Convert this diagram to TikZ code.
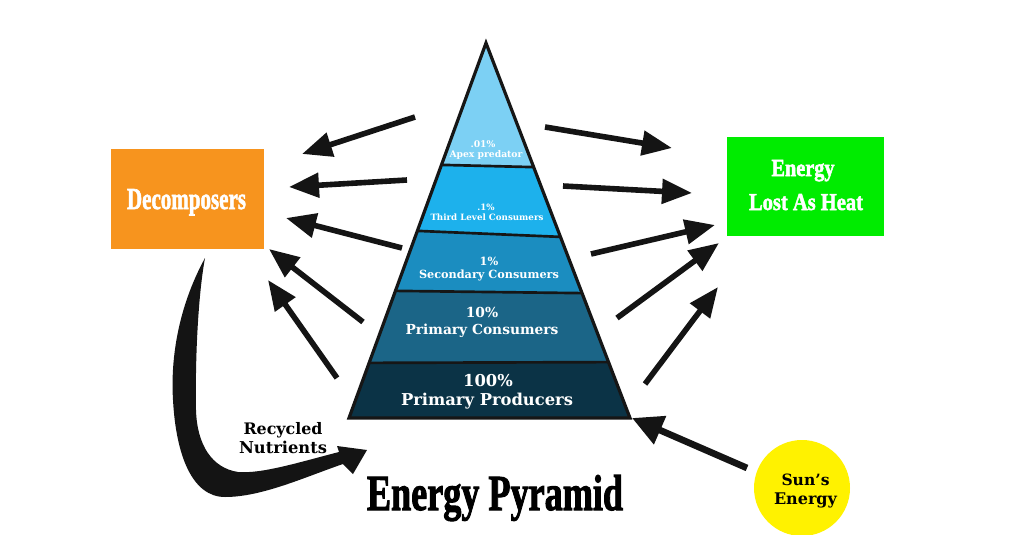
\documentclass[tikz,border=0pt]{standalone}
\usepackage{fontspec}
\usepackage{graphicx}
\usetikzlibrary{arrows.meta,calc}
\newfontfamily\slabfont{DejaVu Serif}
\newfontfamily\condfont[BoldFeatures={FakeBold=2.2}]{Liberation Serif}
\newcommand\fitw[2]{\resizebox{#1}{!}{#2}}
\newcommand\fitwh[3]{\resizebox{#1}{#2}{#3}}
\newlength\natw
% scale #3 by the factor that brings #2 to width #1 (pt)
\newcommand\scaledlike[3]{%
  \settowidth\natw{\slabfont\bfseries #2}%
  \pgfmathsetmacro\bsf{#1/\natw}%
  \scalebox{\bsf}{\slabfont\bfseries #3}}
% #1 name, #2 num x, #3 num y, #4 name x, #5 name y, #6 width (pt), #7 number, #8 label
\newcommand\bandpair[8]{%
  \node[ptext] (#1num) at (#2,#3) {\scaledlike{#6}{#8}{#7}};
  \node[ptext] (#1lab) at (#4,#5) {\scaledlike{#6}{#8}{#8}};
}
\definecolor{apexc}{RGB}{124,208,244}
\definecolor{thirdc}{RGB}{29,177,236}
\definecolor{secc}{RGB}{27,141,192}
\definecolor{primc}{RGB}{27,101,135}
\definecolor{prodc}{RGB}{11,51,70}
\definecolor{outl}{RGB}{22,22,22}
\definecolor{decoc}{RGB}{247,148,30}
\definecolor{heatc}{RGB}{0,236,0}
\definecolor{sunc}{RGB}{255,242,0}
\definecolor{ink}{RGB}{20,20,20}
\tikzset{
  flow/.style={draw=ink, line width=4.2pt, -{Triangle[length=22.5pt,width=18pt]}},
  flowthick/.style={draw=ink, line width=5pt, -{Triangle[length=23pt,width=22pt]}},
  divider/.style={draw=outl, line width=2pt},
  ptext/.style={text=white, inner sep=0pt, anchor=base},
  btext/.style={text=black, inner sep=0pt, anchor=base},
}
\begin{document}
\begin{tikzpicture}[x=0.75pt,y=-0.75pt]
\useasboundingbox (0,0) rectangle (1024,535);
\fill[white] (0,0) rectangle (1024,535);

% pyramid geometry
\coordinate (A) at (486,43);
\coordinate (BL) at (349,418);
\coordinate (BR) at (630,418);
\coordinate (L1) at ($(A)!0.325!(BL)$);
\coordinate (R1) at ($(A)!0.331!(BR)$);
\coordinate (L2) at ($(A)!0.501!(BL)$);
\coordinate (R2) at ($(A)!0.517!(BR)$);
\coordinate (L3) at ($(A)!0.661!(BL)$);
\coordinate (R3) at ($(A)!0.667!(BR)$);
\coordinate (L4) at ($(A)!0.853!(BL)$);
\coordinate (R4) at ($(A)!0.851!(BR)$);

\fill[apexc] (A) -- (R1) -- (L1) -- cycle;
\fill[thirdc] (L1) -- (R1) -- (R2) -- (L2) -- cycle;
\fill[secc] (L2) -- (R2) -- (R3) -- (L3) -- cycle;
\fill[primc] (L3) -- (R3) -- (R4) -- (L4) -- cycle;
\fill[prodc] (L4) -- (R4) -- (BR) -- (BL) -- cycle;
\draw[divider] (L1) -- (R1);
\draw[divider] (L2) -- (R2);
\draw[divider] (L3) -- (R3);
\draw[divider] (L4) -- (R4);
\draw[outl, line width=2.4pt] (A) -- (BR) -- (BL) -- cycle;

% pyramid texts
\bandpair{apex}{483}{147}{486}{157}{54.75}{.01\%}{Apex predator}
\bandpair{third}{486}{210}{487}{220}{84.75}{.1\%}{Third Level Consumers}
\bandpair{sec}{489}{265}{489}{278}{105}{1\%}{Secondary Consumers}
\bandpair{prim}{482}{317}{482}{334}{114.75}{10\%}{Primary Consumers}
\bandpair{prod}{488}{386}{487}{405}{129}{100\%}{Primary Producers}

% boxes
\fill[decoc] (111,149) rectangle (264,249);
\node[ptext] (decomp) at (186.5,209) {\fitwh{89.25pt}{15pt}{\condfont\bfseries Decomposers}};
\fill[heatc] (727,137) rectangle (884,236);
\node[ptext] (heat1) at (803,176) {\fitwh{47.25pt}{12pt}{\condfont\bfseries Energy}};
\node[ptext] (heat2) at (806,210) {\fitwh{85.5pt}{12pt}{\condfont\bfseries Lost As Heat}};

% sun
\fill[sunc] (802,488) circle[radius=48];
\node[btext] (sun1) at (805.5,485) {\fitw{36pt}{\slabfont\bfseries Sun’s}};
\node[btext] (sun2) at (805.5,504) {\fitw{47.25pt}{\slabfont\bfseries Energy}};

% title
\node[btext] (title) at (495,510) {\fitwh{192pt}{26.25pt}{\condfont\bfseries Energy Pyramid}};

% recycled label
\node[btext] (rec1) at (283,434) {\fitw{59.25pt}{\slabfont\bfseries Recycled}};
\node[btext] (rec2) at (283,453) {\fitw{66pt}{\slabfont\bfseries Nutrients}};

% arrow end points
\coordinate (r1s) at (545,127); \coordinate (r1e) at (672,148);
\coordinate (r2s) at (563,186); \coordinate (r2e) at (692,193);
\coordinate (r3s) at (591,254); \coordinate (r3e) at (715,225);
\coordinate (r4s) at (617,318); \coordinate (r4e) at (719,243);
\coordinate (r5s) at (645,384); \coordinate (r5e) at (718,287);
\coordinate (l1s) at (415,117); \coordinate (l1e) at (302,154);
\coordinate (l2s) at (407,180); \coordinate (l2e) at (289,187);
\coordinate (l3s) at (402,248); \coordinate (l3e) at (286,218);
\coordinate (l4s) at (363,322); \coordinate (l4e) at (269,249);
\coordinate (l5s) at (337,378); \coordinate (l5e) at (268,280);
\coordinate (ss) at (747,468); \coordinate (se) at (632,418);

\foreach \a in {r1,r2,r3,r4,r5,l1,l2,l3,l4,l5}
  \draw[flow] (\a s) -- (\a e);
\draw[flowthick] (ss) -- (se);

% recycled nutrients curved arrow
\fill[ink] (205,258) .. controls (182,300) and (170,350) .. (173,400)
  .. controls (176,455) and (192,497) .. (225,497)
  .. controls (262,497) and (305,477) .. (343,464)
  -- (353,474) -- (367,450) -- (337,446) -- (339,452)
  .. controls (300,462) and (262,474) .. (238,472)
  .. controls (212,468) and (197,445) .. (196,410)
  .. controls (195,350) and (199,290) .. (205,258) -- cycle;
\end{tikzpicture}
\end{document}
